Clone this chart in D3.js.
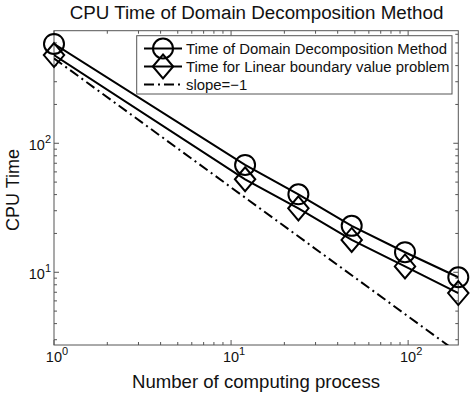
<!DOCTYPE html>
<html><head><meta charset="utf-8">
<script src="https://cdn.jsdelivr.net/npm/d3@7"></script>
<style>body{margin:0;background:#fff}svg{display:block}</style>
</head><body>
<script>
const procs = [1, 12, 24, 48, 96, 192];
const ddmTime = [589, 67.9, 40.2, 22.9, 14.3, 9.15];
const linTime = [483, 52.6, 31.3, 17.8, 11.1, 6.9];
const slopeRef = 455; // slope = -1 reference: slopeRef / x
const slopeX = [1, 192];
const xTicks = [1, 10, 100];
const yTicks = [10, 100];
const legendLabels = ["Time of Domain Decomposition Method", "Time for Linear boundary value problem", "slope=\u22121"];

const W = 474, H = 395;
const m = {l: 54, r: 458.3, t: 30.7, b: 345};
const svg = d3.select("body").append("svg").attr("width", W).attr("height", H)
  .style("font-family", "'Liberation Sans', Arial, sans-serif");

const x = d3.scaleLog().domain([1, 192]).range([m.l, m.r]);
const y = d3.scaleLog().domain([2.73, 746]).range([m.b, m.t]);

svg.append("defs").append("clipPath").attr("id", "clip")
  .append("rect").attr("x", m.l).attr("y", m.t).attr("width", m.r - m.l).attr("height", m.b - m.t);

function minorVals(domain) {
  const out = [];
  for (let e = -1; e <= 3; e++) for (let k = 1; k <= 9; k++) {
    const v = k * Math.pow(10, e);
    if (v >= domain[0] - 1e-9 && v <= domain[1] + 1e-9) out.push(v);
  }
  return out;
}
const axCol = "#555";
const g = svg.append("g");
minorVals(x.domain()).forEach(v => {
  const major = Math.abs(Math.log10(v) - Math.round(Math.log10(v))) < 1e-9;
  const len = major ? 5 : 3;
  g.append("line").attr("x1", x(v)).attr("x2", x(v)).attr("y1", m.b).attr("y2", m.b - len).attr("stroke", axCol);
  g.append("line").attr("x1", x(v)).attr("x2", x(v)).attr("y1", m.t).attr("y2", m.t + len).attr("stroke", axCol);
});
minorVals(y.domain()).forEach(v => {
  const major = Math.abs(Math.log10(v) - Math.round(Math.log10(v))) < 1e-9;
  const len = major ? 5 : 3;
  g.append("line").attr("y1", y(v)).attr("y2", y(v)).attr("x1", m.l).attr("x2", m.l + len).attr("stroke", axCol);
  g.append("line").attr("y1", y(v)).attr("y2", y(v)).attr("x1", m.r).attr("x2", m.r - len).attr("stroke", axCol);
});
g.append("rect").attr("x", m.l).attr("y", m.t).attr("width", m.r - m.l).attr("height", m.b - m.t)
  .attr("fill", "none").attr("stroke", axCol).attr("stroke-width", 1);

function powLabel(sel, v) {
  sel.append("tspan").text("10");
  sel.append("tspan").attr("dy", -7).attr("font-size", 11).text(Math.round(Math.log10(v)));
}
xTicks.forEach(v => {
  const t = svg.append("text").attr("x", x(v) + 3).attr("y", 362).attr("text-anchor", "middle")
    .attr("font-size", 14.5).attr("fill", "#111");
  powLabel(t, v);
});
yTicks.forEach(v => {
  const t = svg.append("text").attr("x", m.l - 3).attr("y", y(v) + 7).attr("text-anchor", "end")
    .attr("font-size", 14.5).attr("fill", "#111");
  powLabel(t, v);
});

svg.append("text").attr("x", 256.5).attr("y", 19).attr("text-anchor", "middle")
  .attr("font-size", 18.8).attr("fill", "#111").text("CPU Time of Domain Decomposition Method");
svg.append("text").attr("x", 256).attr("y", 388).attr("text-anchor", "middle")
  .attr("font-size", 18.6).attr("fill", "#111").text("Number of computing process");
svg.append("text").attr("transform", "translate(19,190) rotate(-90)").attr("text-anchor", "middle")
  .attr("font-size", 18).attr("fill", "#111").text("CPU Time");

const plot = svg.append("g").attr("clip-path", "url(#clip)");
const line = d3.line().x((d, i) => x(procs[i])).y(d => y(d));
plot.append("path").datum(ddmTime).attr("d", line).attr("fill", "none").attr("stroke", "#000").attr("stroke-width", 2);
plot.append("path").datum(linTime).attr("d", line).attr("fill", "none").attr("stroke", "#000").attr("stroke-width", 2);
plot.append("path").datum(slopeX).attr("d", d3.line().x(d => x(d)).y(d => y(slopeRef / d)))
  .attr("fill", "none").attr("stroke", "#000").attr("stroke-width", 2).attr("stroke-dasharray", "10,4,2,4");

const mk = svg.append("g");
const diamondPath = (r) => `M0,${-r}L${r * 0.85},0L0,${r}L${-r * 0.85},0Z`;
ddmTime.forEach((v, i) => {
  mk.append("circle").attr("cx", x(procs[i])).attr("cy", y(v)).attr("r", 10)
    .attr("fill", "none").attr("stroke", "#000").attr("stroke-width", 2);
});
linTime.forEach((v, i) => {
  mk.append("path").attr("transform", `translate(${x(procs[i])},${y(v)})`).attr("d", diamondPath(12))
    .attr("fill", "none").attr("stroke", "#000").attr("stroke-width", 2);
});

const lg = svg.append("g");
lg.append("rect").attr("x", 136.7).attr("y", 35.7).attr("width", 315.3).attr("height", 58.3)
  .attr("fill", "#fff").attr("stroke", axCol).attr("stroke-width", 1);
const rows = [48.5, 66.5, 84.5];
rows.forEach((ry, i) => {
  const ln = lg.append("line").attr("x1", 144).attr("x2", 182).attr("y1", ry).attr("y2", ry)
    .attr("stroke", "#000").attr("stroke-width", 2);
  if (i === 2) ln.attr("stroke-dasharray", "10,4,2,4");
  if (i === 0) lg.append("circle").attr("cx", 163).attr("cy", ry).attr("r", 10).attr("fill", "none").attr("stroke", "#000").attr("stroke-width", 2);
  if (i === 1) lg.append("path").attr("transform", `translate(163,${ry})`).attr("d", diamondPath(12)).attr("fill", "none").attr("stroke", "#000").attr("stroke-width", 2);
  lg.append("text").attr("x", 186).attr("y", ry + 5.5).attr("font-size", 14.9).attr("fill", "#111").text(legendLabels[i]);
});
</script>
</body></html>
